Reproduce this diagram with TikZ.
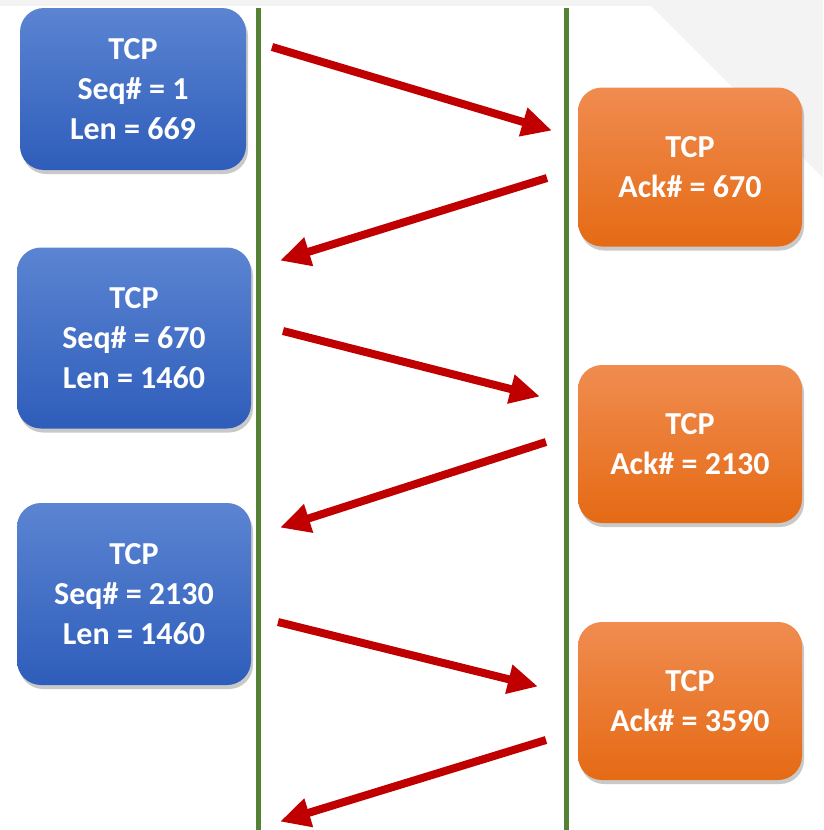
\documentclass[tikz,border=0pt]{standalone}
\usepackage{fontspec}
\setmainfont{Carlito}
\usetikzlibrary{shadows,arrows.meta}
\definecolor{bluetop}{HTML}{5B84D2}
\definecolor{bluebot}{HTML}{2E5DBA}
\definecolor{orgtop}{HTML}{F08C50}
\definecolor{orgbot}{HTML}{E56A14}
\definecolor{lifeline}{HTML}{548235}
\definecolor{msg}{HTML}{C00000}
\definecolor{bggrey}{HTML}{F3F3F3}
\tikzset{
  box/.style={rounded corners=24pt, inner sep=0pt, align=center, text=white,
    font=\fontsize{32}{40}\selectfont\bfseries,
    drop shadow={shadow xshift=2pt, shadow yshift=-4pt, opacity=0.35, fill=black!60}},
  sender/.style={box, top color=bluetop, bottom color=bluebot},
  receiver/.style={box, top color=orgtop, bottom color=orgbot},
  life/.style={draw=lifeline, line width=5pt},
  arr/.style={draw=msg, line width=8pt, -{Triangle[length=30pt,width=28pt]}, shorten >=-2pt}
}
\begin{document}
\begin{tikzpicture}[x=1pt,y=-1pt]
\useasboundingbox (0,0) rectangle (823,830);
\fill[white] (0,0) rectangle (823,830);
\fill[bggrey] (0,0) rectangle (823,6);
\fill[bggrey] (645,0) -- (823,0) -- (823,178) -- cycle;
% lifelines
\coordinate (l1t) at (258,8); \coordinate (l1b) at (258,830);
\coordinate (l2t) at (566,8); \coordinate (l2b) at (566,830);
\draw[life] (l1t) -- (l1b);
\draw[life] (l2t) -- (l2b);
% boxes
\node[sender, minimum width=226pt, minimum height=162pt] (s1) at (133,89) {TCP\\Seq\# = 1\\Len = 669};
\node[sender, minimum width=234pt, minimum height=181pt] (s2) at (134,338) {TCP\\Seq\# = 670\\Len = 1460};
\node[sender, minimum width=234pt, minimum height=182pt] (s3) at (134,594) {TCP\\Seq\# = 2130\\Len = 1460};
\node[receiver, minimum width=224pt, minimum height=159pt] (r1) at (690,167) {TCP\\Ack\# = 670};
\node[receiver, minimum width=224pt, minimum height=158pt] (r2) at (690,444) {TCP\\Ack\# = 2130};
\node[receiver, minimum width=224pt, minimum height=158pt] (r3) at (690,701) {TCP\\Ack\# = 3590};
% message coordinates
\coordinate (a1s) at (272,47); \coordinate (a1e) at (550,130);
\coordinate (a2s) at (547,178); \coordinate (a2e) at (282,260);
\coordinate (a3s) at (283,331); \coordinate (a3e) at (538,396);
\coordinate (a4s) at (546,442); \coordinate (a4e) at (282,527);
\coordinate (a5s) at (278,622); \coordinate (a5e) at (536,686);
\coordinate (a6s) at (546,740); \coordinate (a6e) at (282,821);
\draw[arr] (a1s) -- (a1e);
\draw[arr] (a2s) -- (a2e);
\draw[arr] (a3s) -- (a3e);
\draw[arr] (a4s) -- (a4e);
\draw[arr] (a5s) -- (a5e);
\draw[arr] (a6s) -- (a6e);
\end{tikzpicture}
\end{document}
